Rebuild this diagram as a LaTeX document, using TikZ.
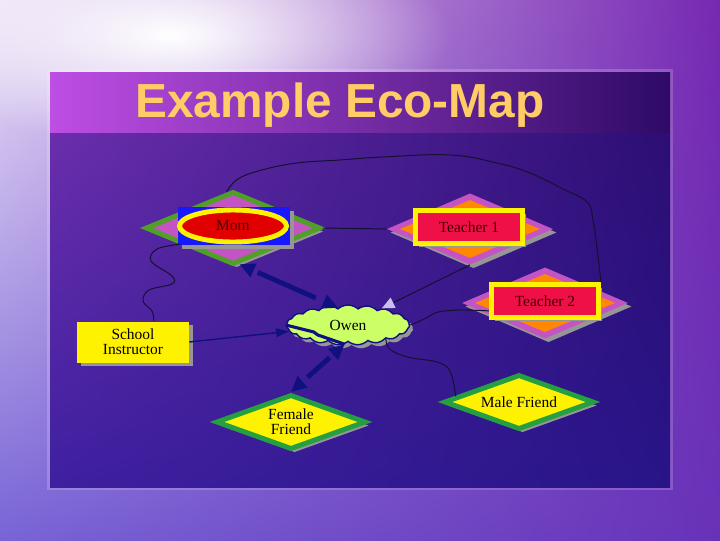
\documentclass[tikz,border=0pt]{standalone}
\usepackage{fontspec}
\setmainfont{Liberation Serif}
\newfontfamily\titlefont{Liberation Sans}
\usetikzlibrary{shapes.geometric,shapes.symbols,shadows,fadings,shadings,arrows.meta}
\tikzfading[name=glowfade,inner color=transparent!0,outer color=transparent!100]
\definecolor{bgul}{RGB}{236,222,246}
\definecolor{bgur}{RGB}{118,40,178}
\definecolor{bgll}{RGB}{120,100,214}
\definecolor{bglr}{RGB}{104,50,184}
\definecolor{bandleft}{RGB}{190,78,228}
\definecolor{bandmid}{RGB}{112,40,170}
\definecolor{bandright}{RGB}{46,10,102}
\definecolor{panelul}{RGB}{106,46,172}
\definecolor{panelur}{RGB}{44,14,116}
\definecolor{panelll}{RGB}{62,32,160}
\definecolor{panellr}{RGB}{40,20,136}
\definecolor{ecogold}{RGB}{255,204,102}
\definecolor{ecogreen}{RGB}{36,160,64}
\definecolor{momgreen}{RGB}{80,160,40}
\definecolor{ecopink}{RGB}{196,84,196}
\definecolor{ecoorange}{RGB}{255,136,0}
\definecolor{ecored}{RGB}{240,16,72}
\definecolor{momred}{RGB}{224,0,0}
\definecolor{momblue}{RGB}{24,24,255}
\definecolor{ecolime}{RGB}{204,255,102}
\definecolor{ecoblue}{RGB}{16,16,128}
\definecolor{ecolav}{RGB}{200,190,240}
\definecolor{ecotext}{RGB}{70,0,0}
\definecolor{shadowgray}{RGB}{150,150,150}
\definecolor{inkline}{RGB}{20,16,48}
\begin{document}
\begin{tikzpicture}[x=0.025cm,y=-0.025cm,
  font=\fontsize{11}{10.7}\selectfont,
  grayshadow/.style={drop shadow={shadow xshift=2.5pt,shadow yshift=-2.5pt,fill=shadowgray,opacity=1}},
  teacherdiamond/.style={diamond,inner sep=0,fill=ecopink,minimum width=4.15cm,minimum height=1.78cm,grayshadow},
  orangediamond/.style={diamond,inner sep=0,fill=ecoorange,minimum width=3.5cm,minimum height=1.45cm},
  teacherbox/.style={rectangle,inner sep=0,draw=yellow,line width=3.5pt,fill=ecored,text=ecotext,
    minimum width=2.675cm,minimum height=0.825cm,grayshadow},
  frienddiamond/.style={diamond,aspect=2.6,inner sep=0,draw=ecogreen,line width=3.5pt,fill=yellow,align=center,
    minimum width=3.75cm,minimum height=1.375cm,grayshadow},
  freehand/.style={draw=inkline,line width=0.7pt},
  bigarrow/.style={ecoblue,line width=3.5pt,{Triangle[length=11pt,width=10pt]}-{Triangle[length=11pt,width=10pt]}}]
\useasboundingbox (0,0) rectangle (720,540);
% backdrop
\shade[upper left=bgul,upper right=bgur,lower left=bgll,lower right=bglr] (0,0) rectangle (720,540);
\fill[white,path fading=glowfade] (170,35) ellipse [x radius=7cm,y radius=2.8cm];
\fill[white,opacity=0.18] (47,69) rectangle (673,490);
\shade[left color=bandleft,middle color=bandmid,right color=bandright] (50,72) rectangle (670,133);
\shade[upper left=panelul,upper right=panelur,lower left=panelll,lower right=panellr] (50,133) rectangle (670,487);
\draw (340,117) node[anchor=base,text=ecogold,font=\titlefont\bfseries\fontsize{34}{40}\selectfont] (title) {Example Eco-Map};
% teachers
\draw (470,229) node[teacherdiamond] (t1d) {};
\draw (470,229) node[orangediamond] (t1o) {};
\draw (469,227) node[teacherbox] (t1r) {Teacher 1};
\draw (545,303) node[teacherdiamond] (t2d) {};
\draw (545,303) node[orangediamond] (t2o) {};
\draw (545,301) node[teacherbox] (t2r) {Teacher 2};
% mom
\draw (233,228) node[diamond,inner sep=0,draw=momgreen,line width=3.5pt,fill=ecopink,
  minimum width=4.375cm,minimum height=1.825cm,grayshadow] (momd) {};
\draw (234,226) node[rectangle,inner sep=0,fill=momblue,minimum width=2.8cm,minimum height=0.95cm,grayshadow] (momr) {};
\draw (233,226) node[ellipse,inner sep=0,draw=yellow,line width=3.5pt,fill=momred,text=ecotext,
  minimum width=2.675cm,minimum height=0.8cm] (mom) {Mom};
% others
\draw (133,342) node[rectangle,inner sep=0,fill=yellow,align=center,minimum width=2.8cm,minimum height=1.025cm,grayshadow] (school) {School\\Instructor};
\draw (348,325) node[cloud,cloud puffs=19,cloud puff arc=85,aspect=3,inner sep=0,draw=ecoblue,line width=1pt,
  fill=ecolime,minimum width=3.075cm,minimum height=1cm,grayshadow] (owen) {Owen};
\draw (291,422) node[frienddiamond] (ffd) {Female\\Friend};
\draw (519,402) node[frienddiamond] (mfd) {Male Friend};
% ties
\draw[freehand] (momd.east) -- (t1d.west);
\draw[freehand] plot[smooth,tension=0.7] coordinates {(momd.100) (238,179) (262,170) (297,163) (340,160) (383,157)
  (450,155) (497,163) (530,173) (563,189) (587,202) (593,220) (597,248) (t2r.north east)};
\draw[freehand] plot[smooth,tension=0.6] coordinates {(momd.-163) (157,249) (151,261) (172,276) (172,284)
  (149,290) (143,301) (152,311) (school.45)};
\draw[freehand] plot[smooth,tension=0.6] coordinates {(owen.-20) (388,347) (396,353) (412,358) (437,362) (450,371) (mfd.175)};
\draw[freehand] plot[smooth,tension=0.6] coordinates {(owen.east) (420,321) (428,317) (438,312) (460,310) (t2r.190)};
\draw[freehand,-{Triangle[length=9pt,width=8pt,color=ecolav]}] (t1d.south) -- (owen);
\draw[ecoblue,line width=1pt,-{Triangle[length=9pt,width=6pt]}] (school.east) -- (owen);
\draw[ecoblue,line width=2.2pt] (owen.west) -- ++(28,7) -- ++(4,3) -- (owen.-100);
\draw[bigarrow,dash pattern=on 45pt off 8pt,dash phase=49pt] (momd.-80) -- (owen.120);
\draw[bigarrow,dash pattern=on 21pt off 8pt,dash phase=25pt] (owen.-100) -- (ffd.north);
\end{tikzpicture}
\end{document}
